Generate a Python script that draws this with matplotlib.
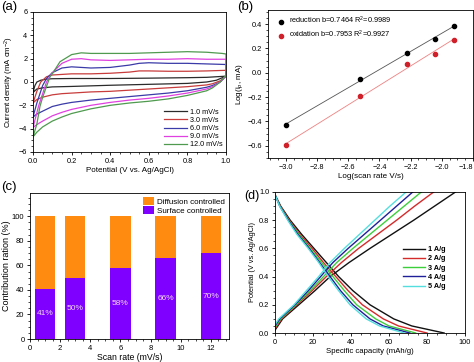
import matplotlib
matplotlib.use("Agg")
import matplotlib.pyplot as plt
import numpy as np

plt.rcParams['font.family'] = ['Liberation Sans', 'DejaVu Sans']
plt.rcParams['font.size'] = 5
plt.rcParams['axes.linewidth'] = 0.6
plt.rcParams['mathtext.fontset'] = 'custom'
plt.rcParams['mathtext.rm'] = 'Liberation Sans'
plt.rcParams['mathtext.it'] = 'Liberation Sans:italic'

# ---- (a) CV curves ----
cv_labels = ['1.0 mV/s', '3.0 mV/s', '6.0 mV/s', '9.0 mV/s', '12.0 mV/s']
cv_colors = ['#2b2b2b', '#c83c3c', '#3a3aa8', '#e040e0', '#4f9a4f']

up_black_x = [0, 0.01, 0.02, 0.04, 0.07, 0.1, 0.2, 0.4, 0.6, 0.8, 0.9, 1.0]
up_black_y = [-0.9, -0.3, 0.0, 0.15, 0.25, 0.28, 0.3, 0.3, 0.33, 0.37, 0.4, 0.5]
lo_black_x = [1.0, 0.95, 0.9, 0.8, 0.6, 0.4, 0.2, 0.1, 0.05, 0.02, 0]
lo_black_y = [0.5, 0.15, 0.0, -0.12, -0.2, -0.28, -0.38, -0.42, -0.5, -0.6, -0.9]

up_red_x = [0, 0.02, 0.04, 0.07, 0.1, 0.15, 0.2, 0.3, 0.4, 0.5, 0.55, 0.6, 0.7, 0.8, 0.9, 1.0]
up_red_y = [-1.8, -0.8, 0.0, 0.45, 0.6, 0.65, 0.7, 0.7, 0.75, 0.85, 0.95, 0.95, 0.92, 0.92, 0.95, 1.0]
lo_red_x = [1.0, 0.97, 0.93, 0.9, 0.8, 0.7, 0.6, 0.5, 0.4, 0.3, 0.2, 0.15, 0.1, 0.05, 0.02, 0]
lo_red_y = [0.5, 0.1, -0.15, -0.25, -0.4, -0.5, -0.6, -0.7, -0.8, -0.85, -0.95, -1.0, -1.1, -1.3, -1.5, -1.8]

up_blue_x = [0, 0.02, 0.05, 0.07, 0.1, 0.15, 0.2, 0.25, 0.3, 0.4, 0.5, 0.55, 0.6, 0.7, 0.8, 0.9, 1.0]
up_blue_y = [-3.0, -1.8, -0.3, 0.3, 0.8, 1.2, 1.3, 1.25, 1.2, 1.25, 1.45, 1.6, 1.65, 1.6, 1.6, 1.55, 1.5]
lo_blue_x = [1.0, 0.97, 0.93, 0.9, 0.8, 0.7, 0.6, 0.5, 0.4, 0.3, 0.2, 0.15, 0.1, 0.05, 0.02, 0]
lo_blue_y = [0.5, 0.0, -0.3, -0.45, -0.75, -0.95, -1.1, -1.25, -1.4, -1.55, -1.75, -1.9, -2.1, -2.5, -2.75, -3.0]

up_mag_x = [0, 0.03, 0.07, 0.1, 0.15, 0.2, 0.25, 0.3, 0.4, 0.5, 0.6, 0.7, 0.8, 0.9, 1.0]
up_mag_y = [-3.9, -2.0, 0.0, 0.8, 1.6, 1.95, 2.0, 1.9, 1.85, 1.9, 1.95, 1.95, 2.0, 1.95, 1.95]
lo_mag_x = [1.0, 0.97, 0.93, 0.9, 0.8, 0.7, 0.6, 0.5, 0.4, 0.3, 0.2, 0.15, 0.1, 0.05, 0.02, 0]
lo_mag_y = [0.55, 0.0, -0.4, -0.6, -0.95, -1.2, -1.4, -1.55, -1.75, -2.0, -2.35, -2.6, -2.9, -3.35, -3.65, -3.9]

up_green_x = [0, 0.02, 0.036, 0.05, 0.088, 0.1, 0.14, 0.2, 0.25, 0.3, 0.4, 0.5, 0.6, 0.7, 0.8, 0.9, 0.98, 1.0]
up_green_y = [-4.7, -3.6, -2.1, -1.3, 0.45, 0.7, 1.74, 2.35, 2.5, 2.45, 2.45, 2.45, 2.5, 2.55, 2.6, 2.55, 2.45, 2.4]
lo_green_x = [1.0, 0.97, 0.93, 0.9, 0.8, 0.7, 0.6, 0.5, 0.4, 0.3, 0.2, 0.15, 0.1, 0.05, 0.02, 0]
lo_green_y = [0.6, 0.0, -0.5, -0.75, -1.15, -1.45, -1.65, -1.8, -2.0, -2.3, -2.7, -3.0, -3.35, -3.85, -4.3, -4.7]

cv_x = [up_black_x + lo_black_x, up_red_x + lo_red_x, up_blue_x + lo_blue_x,
        up_mag_x + lo_mag_x, up_green_x + lo_green_x]
cv_y = [up_black_y + lo_black_y, up_red_y + lo_red_y, up_blue_y + lo_blue_y,
        up_mag_y + lo_mag_y, up_green_y + lo_green_y]

# ---- (b) log(i) vs log(v) ----
log_v = [-3.0, -2.523, -2.222, -2.046, -1.921]
log_i_red = [-0.427, -0.055, 0.164, 0.279, 0.384]
log_i_ox = [-0.597, -0.189, 0.074, 0.156, 0.266]

# ---- (c) contribution ----
scan_rates = [1, 3, 6, 9, 12]
surface = [41, 50, 58, 66, 70]
diffusion = [100 - s for s in surface]

# ---- (d) GCD ----
gcd_labels = ['1 A/g', '2 A/g', '3 A/g', '4 A/g', '5 A/g']
gcd_colors = ['#111111', '#d42a2a', '#3ccf3c', '#1f1f9a', '#55dede']
dis_v = [0.98, 0.9, 0.8, 0.7, 0.6, 0.5, 0.4, 0.3, 0.2, 0.1, 0.05, 0.0]
dis_cap = [
    [0, 3, 8, 14, 20.5, 27, 33.5, 41, 50, 62.5, 72, 89],
    [0, 2.8, 7.5, 13, 19.5, 25.5, 32, 38.5, 46, 57, 65, 80],
    [0, 2.6, 7.2, 12.5, 18.5, 24.5, 30.5, 36.5, 43, 53, 60, 74],
    [0, 2.5, 7, 12, 18, 23.5, 29, 34.5, 41, 50, 57, 71],
    [0, 2.4, 6.7, 11.5, 17.5, 23, 28, 33.5, 39.5, 48, 55, 68],
]
chg_v0 = [0.02, 0.03, 0.04, 0.05, 0.06]
chg_v = [0.1, 0.2, 0.3, 0.4, 0.5, 0.6, 0.7, 0.8, 0.9, 1.0]
chg_cap = [
    [4, 12.5, 21, 29, 39, 50, 61.5, 73, 84, 95],
    [3.5, 11.5, 19.5, 27, 35, 44, 54, 64, 73.5, 83.5],
    [3, 11, 18.5, 25.5, 32.5, 41, 50, 59, 68, 77],
    [2.5, 10.5, 17.5, 24, 30.5, 38.5, 47, 55.5, 64, 72.5],
    [2, 10, 16.5, 23, 29, 36.5, 44.5, 52.5, 60.5, 69],
]

W, H = 474, 362
fig = plt.figure(figsize=(W / 100, H / 100), dpi=100)


def px_axes(x0, y0, x1, y1):
    return fig.add_axes([x0 / W, 1 - y1 / H, (x1 - x0) / W, (y1 - y0) / H])


def style(ax, size=5.3):
    ax.tick_params(which='major', direction='out', length=2.5, width=0.6, pad=1.5, labelsize=size)
    ax.tick_params(which='minor', direction='out', length=1.5, width=0.5)
    ax.minorticks_on()


# (a)
ax = px_axes(33, 12, 226, 152)
for x, y, c, lab in zip(cv_x, cv_y, cv_colors, cv_labels):
    ax.plot(x, y, color=c, lw=0.9, label=lab)
ax.set_xlim(0, 1.0)
ax.set_ylim(-6, 6)
ax.set_xticks([0, 0.2, 0.4, 0.6, 0.8, 1.0])
ax.set_yticks([-6, -4, -2, 0, 2, 4, 6])
style(ax)
ax.set_xlabel('Potential (V vs. Ag/AgCl)', fontsize=5.8, labelpad=2)
ax.set_ylabel('Current density (mA cm$^{-2}$)', fontsize=5.6, labelpad=2)
ax.legend(loc='lower right', frameon=False, fontsize=5.2, handlelength=3.2,
          labelspacing=0.15, handletextpad=0.4, borderaxespad=0.1)

# (b)
ax = px_axes(268, 10, 473, 158)
ax.scatter(log_v, log_i_red, s=9, color='black', zorder=3,
           label='reduction b=0.7464 R$^2$=0.9989')
ax.scatter(log_v, log_i_ox, s=9, color='#d0202a', zorder=3,
           label='oxidation b=0.7953 R$^2$=0.9927')
for yv, c in [(log_i_red, '#555555'), (log_i_ox, '#f08080')]:
    k, b0 = np.polyfit(log_v, yv, 1)
    xs = np.array([log_v[0], log_v[-1]])
    ax.plot(xs, k * xs + b0, color=c, lw=0.6)
ax.set_xlim(-3.115, -1.8)
ax.set_ylim(-0.7, 0.515)
ax.set_xticks([-3.0, -2.8, -2.6, -2.4, -2.2, -2.0, -1.8])
ax.set_yticks([-0.6, -0.4, -0.2, 0.0, 0.2, 0.4])
style(ax)
ax.get_xticklabels()[-1].set_horizontalalignment('right')
ax.set_xlabel('Log(scan rate V/s)', fontsize=5.8, labelpad=2)
ax.set_ylabel('Log(i$_p$, mA)', fontsize=5.8, labelpad=2)
ax.legend(loc='upper left', frameon=False, fontsize=5.3, handletextpad=0.2,
          labelspacing=0.3, borderaxespad=0.3, scatterpoints=1)

# (c)
ax = px_axes(30, 193, 229, 339)
ax.bar(scan_rates, surface, width=1.36, color='#7f00ff', label='Surface controlled')
ax.bar(scan_rates, diffusion, width=1.36, bottom=surface, color='#ff8c10',
       label='Diffusion controlled')
for xr, s in zip(scan_rates, surface):
    ax.text(xr, s * 0.5, f'{s}%', ha='center', va='center', fontsize=6, color='#f4d8f4')
ax.set_xlim(0, 13.2)
ax.set_ylim(0, 119)
ax.set_xticks([0, 2, 4, 6, 8, 10, 12])
ax.set_yticks([0, 20, 40, 60, 80, 100])
style(ax, 5.5)
ax.set_xlabel('Scan rate (mV/s)', fontsize=6.3, labelpad=1)
ax.set_ylabel('Contribution ration (%)', fontsize=6.5, labelpad=1)
h, l = ax.get_legend_handles_labels()
ax.legend(h[::-1], l[::-1], loc='upper right', frameon=False, fontsize=5.8,
          handlelength=1.3, handleheight=1.1, labelspacing=0.1,
          handletextpad=0.4, borderaxespad=0.1)

# (d)
ax = px_axes(275, 192, 465, 333)
for i in range(5):
    ax.plot(dis_cap[i], dis_v, color=gcd_colors[i], lw=1.0)
    ax.plot([0] + chg_cap[i], [chg_v0[i]] + chg_v, color=gcd_colors[i], lw=1.0,
            label=gcd_labels[i])
ax.set_xlim(0, 100)
ax.set_ylim(0, 1.0)
ax.set_xticks([0, 20, 40, 60, 80, 100])
ax.set_yticks([0.0, 0.2, 0.4, 0.6, 0.8, 1.0])
style(ax)
ax.set_xlabel('Specific capacity (mAh/g)', fontsize=5.6, labelpad=2)
ax.set_ylabel('Potential (V vs. Ag/AgCl)', fontsize=5.3, labelpad=2)
ax.legend(loc='center right', bbox_to_anchor=(0.93, 0.46), frameon=False,
          prop={'size': 5.2, 'weight': 'bold'}, handlelength=3.0, labelspacing=0.3,
          handletextpad=0.4)

fig.text(1 / W, 1 - 1 / H, '(a)', fontsize=9.5, va='top', ha='left')
fig.text(237 / W, 1 - 1 / H, '(b)', fontsize=9.5, va='top', ha='left')
fig.text(1 / W, 1 - 181 / H, '(c)', fontsize=9.5, va='top', ha='left')
fig.text(244 / W, 1 - 190 / H, '(d)', fontsize=9, va='top', ha='left')

fig.savefig('out.png', dpi=100)
